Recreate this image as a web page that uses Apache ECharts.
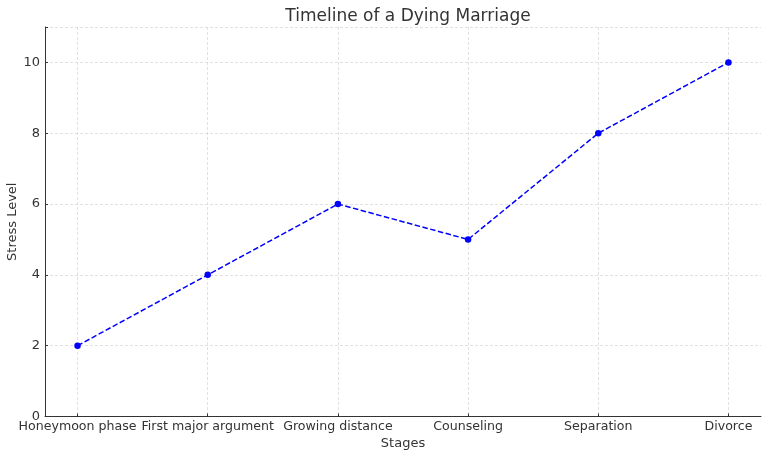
<!DOCTYPE html>
<html>
<head>
<meta charset="utf-8">
<script src="https://cdn.jsdelivr.net/npm/echarts@6/dist/echarts.min.js"></script>
<style>
html,body{margin:0;padding:0;background:#fff;}
#chart{width:768px;height:458px;}
</style>
</head>
<body>
<div id="chart"></div>
<script>
const stages = ["Honeymoon phase","First major argument","Growing distance","Counseling","Separation","Divorce"];
const stressLevels = [2,4,6,5,8,10];
const yTicks = [0,2,4,6,8,10];

const font = "DejaVu Sans";
const chart = echarts.init(document.getElementById('chart'), null, {renderer:'canvas'});
const positions = stages.map((s,i)=>i);
chart.setOption({
  animation:false,
  backgroundColor:'#ffffff',
  title:{
    text:'Timeline of a Dying Marriage',
    left:403, top:3, textAlign:'center',
    textStyle:{fontFamily:font,fontSize:17,fontWeight:'normal',color:'#333333'}
  },
  grid:{left:45,right:7,top:27,bottom:41.5,containLabel:false,outerBoundsMode:'none'},
  xAxis:{
    type:'value',
    min:-0.25, max:5.25,
    name:'Stages', nameLocation:'middle', nameGap:21, nameMoveOverlap:false,
    nameTextStyle:{fontFamily:font,fontSize:13,color:'#333333'},
    axisLine:{show:true,onZero:false,lineStyle:{color:'#333333',width:1}},
    axisTick:{show:true,customValues:positions,length:3,inside:true,lineStyle:{color:'#333333'}},
    axisLabel:{
      customValues:positions,
      formatter:function(v){const i=Math.round(v);return stages[i]!==undefined?stages[i]:'';},
      fontFamily:font,fontSize:12.6,color:'#333333',margin:4,hideOverlap:false
    },
    splitLine:{show:true,lineStyle:{color:'#d4d4d4',type:[3,2],width:0.7}}
  },
  yAxis:{
    type:'value',
    min:0,max:11,interval:2,
    name:'Stress Level', nameLocation:'middle', nameGap:26, nameMoveOverlap:false,
    nameTextStyle:{fontFamily:font,fontSize:13,color:'#333333'},
    axisLine:{show:true,onZero:false,lineStyle:{color:'#333333',width:1}},
    axisTick:{show:true,length:3,inside:true,lineStyle:{color:'#333333'}},
    axisLabel:{
      fontFamily:font,fontSize:13,color:'#333333',margin:5,
      formatter:function(v){return yTicks.indexOf(v)>=0?String(v):'';}
    },
    splitLine:{show:true,lineStyle:{color:'#d4d4d4',type:[3,2],width:0.7}}
  },
  series:[{
    type:'line',
    data:stressLevels.map((v,i)=>[i,v]),
    symbol:'circle',symbolSize:6.5,
    lineStyle:{color:'#0000ff',width:1.5,type:[5.5,2.5]},
    itemStyle:{color:'#0000ff'}
  }]
});
</script>
</body>
</html>
